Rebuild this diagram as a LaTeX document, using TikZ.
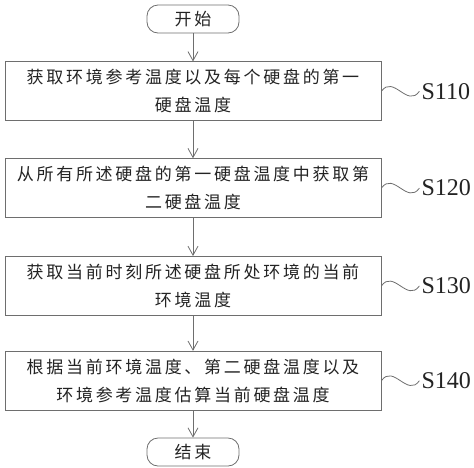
\documentclass[tikz,border=0pt]{standalone}
\usepackage{fontspec}
\setmainfont{Liberation Serif}
\newfontfamily\cjk[LetterSpace=16]{Noto Sans CJK SC}
\usetikzlibrary{positioning, arrows.meta}
\definecolor{linegray}{RGB}{110,110,110}
\definecolor{txtgray}{RGB}{35,35,35}
\tikzset{stepbox/.style={draw=linegray, line width=0.8pt, minimum width=376pt, minimum height=59pt, inner sep=0pt, align=center, text=txtgray, font=\cjk\fontsize{17pt}{28pt}\selectfont}}
\tikzset{termbox/.style={draw=linegray, line width=0.8pt, rounded corners=11pt, minimum width=92pt, minimum height=28pt, inner sep=0pt, text=txtgray, font=\cjk\fontsize{17pt}{20pt}\selectfont}}
\tikzset{arr1/.style={draw=linegray, line width=0.8pt, -{Straight Barb[length=9pt, width=10pt]}}}
\tikzset{slabel/.style={inner sep=2pt, text=txtgray, font=\fontsize{24pt}{26pt}\selectfont}}
\tikzset{wavy/.style={draw=linegray, line width=0.8pt}}

\begin{document}
\begin{tikzpicture}
			\useasboundingbox (0,0) rectangle (474pt,-467pt);
			\node[termbox] (st) at (193pt,-19pt) {开始};
			\node[stepbox, below=28pt of st] (b1) {获取环境参考温度以及每个硬盘的第一\\硬盘温度};
			\node[stepbox, below=37pt of b1] (b2) {从所有所述硬盘的第一硬盘温度中获取第\\二硬盘温度};
			\node[stepbox, below=38pt of b2] (b3) {获取当前时刻所述硬盘所处环境的当前\\环境温度};
			\node[stepbox, below=35pt of b3] (b4) {根据当前环境温度、第二硬盘温度以及\\环境参考温度估算当前硬盘温度};
			\node[termbox, below=27pt of b4] (en) {结束};
%
			\draw[arr1] (st) -- (b1);
			\draw[arr1] (b1) -- (b2);
			\draw[arr1] (b2) -- (b3);
			\draw[arr1] (b3) -- (b4);
			\draw[arr1] (b4) -- (en);
%
			\foreach \i/\t in {1/S110, 2/S120, 3/S130, 4/S140} {
				\node[slabel, right=38pt of b\i] (s\i) {\t};
				\draw[wavy] (b\i.east) .. controls +(12pt,17pt) and +(-12pt,-17pt) .. (s\i.west);
			}
		\end{tikzpicture}
\end{document}
